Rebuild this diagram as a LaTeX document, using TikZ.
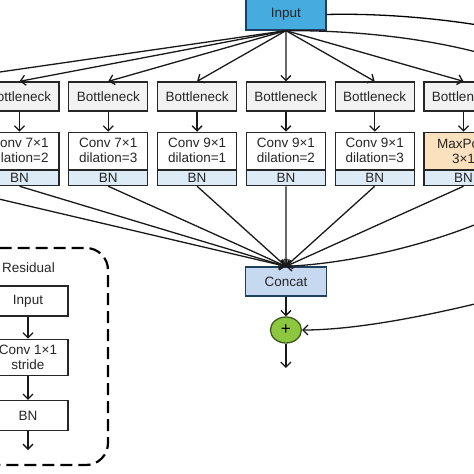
\documentclass[tikz,border=0pt]{standalone}
\usepackage{fontspec}
\setmainfont{Liberation Sans}
\usetikzlibrary{arrows.meta,positioning,shapes.geometric}
\definecolor{inblue}{HTML}{46ACDF}
\definecolor{inline}{HTML}{1F3F5F}
\definecolor{neckgray}{HTML}{F2F2F2}
\definecolor{bnblue}{HTML}{DDEBF7}
\definecolor{poolorange}{HTML}{FBE1BE}
\definecolor{catblue}{HTML}{C6D9F1}
\definecolor{plusgreen}{HTML}{8DC63F}
\definecolor{plusline}{HTML}{3C5A1E}
\definecolor{txt}{HTML}{262626}
\begin{document}
\begin{tikzpicture}[
    x=1pt, y=1pt,
    node distance=88.8pt,
    font=\fontsize{13.5}{15}\selectfont,
    box/.style={rectangle, draw=black!85, line width=1.3pt, minimum width=79pt, inner sep=0pt, align=center, text=txt},
    neck/.style={box, fill=neckgray, minimum height=29pt},
    conv/.style={box, fill=white, minimum height=37pt},
    pool/.style={box, fill=poolorange, minimum height=37pt},
    bn/.style={box, fill=bnblue, minimum height=15pt},
    plain/.style={box, fill=white, minimum width=80pt, minimum height=30pt},
    arrow/.style={-{Straight Barb[length=5pt,width=10pt]}, line width=1.3pt, black!90}
]
\useasboundingbox (0,0) rectangle (474,-474);
\clip (0,0) rectangle (474,-474);

% top input
\node[box, fill=inblue, draw=inline, minimum width=80pt, minimum height=31pt] (inp) at (285.9,-14.5) {Input};

% bottleneck row
\node[neck] (neck1) at (19.5,-96.5) {Bottleneck};
\node[neck, right of=neck1] (neck2) {Bottleneck};
\node[neck, right of=neck2] (neck3) {Bottleneck};
\node[neck, right of=neck3] (neck4) {Bottleneck};
\node[neck, right of=neck4] (neck5) {Bottleneck};
\node[neck, right of=neck5] (neck6) {Bottleneck};

% conv row
\node[conv, below=20pt of neck1] (conv1) {Conv 7×1\\dilation=2};
\node[conv, below=20pt of neck2] (conv2) {Conv 7×1\\dilation=3};
\node[conv, below=20pt of neck3] (conv3) {Conv 9×1\\dilation=1};
\node[conv, below=20pt of neck4] (conv4) {Conv 9×1\\dilation=2};
\node[conv, below=20pt of neck5] (conv5) {Conv 9×1\\dilation=3};
\node[pool, below=20pt of neck6] (conv6) {MaxPool\\3×1};

\node[bn, below=0pt of conv1] (bn1) {BN};
\node[bn, below=0pt of conv2] (bn2) {BN};
\node[bn, below=0pt of conv3] (bn3) {BN};
\node[bn, below=0pt of conv4] (bn4) {BN};
\node[bn, below=0pt of conv5] (bn5) {BN};
\node[bn, below=0pt of conv6] (bn6) {BN};

% branches outside the frame
\coordinate (neck0) at (-69.3,-82);
\coordinate (bn0) at (-69.3,-183);
\coordinate (neck7) at (552.3,-82);
\coordinate (bn7) at (552.3,-183);
\coordinate (res1) at (620,-70);
\coordinate (res2) at (600,-270);

% merge
\node[box, fill=catblue, draw=inline, minimum width=81pt, minimum height=29pt] (concat) at (285.9,-281.5) {Concat};
\node[ellipse, draw=plusline, fill=plusgreen, line width=1.3pt, minimum width=31pt, minimum height=26pt, inner sep=0pt, font=\fontsize{17}{17}\selectfont] (plus) at (285.9,-330) {+};
\coordinate (out) at (285.9,-368);

\draw[arrow] (inp.south) -- (neck0);
\draw[arrow] (inp.south) -- (neck1.north);
\draw[arrow] (inp.south) -- (neck2.north);
\draw[arrow] (inp.south) -- (neck3.north);
\draw[arrow] (inp.south) -- (neck4.north);
\draw[arrow] (inp.south) -- (neck5.north);
\draw[arrow] (inp.south) -- (neck6.north);
\draw[arrow] (inp.south) .. controls (400,-30) and (505,-52) .. (neck7);
\draw[line width=1.3pt] (inp.east) .. controls (420,-12) and (560,-30) .. (res1);

\draw[arrow] (neck1) -- (conv1);
\draw[arrow] (neck2) -- (conv2);
\draw[arrow] (neck3) -- (conv3);
\draw[arrow] (neck4) -- (conv4);
\draw[arrow] (neck5) -- (conv5);
\draw[arrow] (neck6) -- (conv6);

\draw[arrow] (bn0) -- (concat.north);
\draw[arrow] (bn1.south) -- (concat.north);
\draw[arrow] (bn2.south) -- (concat.north);
\draw[arrow] (bn3.south) -- (concat.north);
\draw[arrow] (bn4.south) -- (concat.north);
\draw[arrow] (bn5.south) -- (concat.north);
\draw[arrow] (bn6.south) -- (concat.north);
\draw[arrow] (bn7) .. controls (500,-225) and (380,-262) .. (concat.north);

\draw[arrow] (concat) -- (plus);
\draw[arrow] (plus) -- (out);
\draw[arrow] (res2) .. controls (500,-300) and (380,-330) .. (plus.east);

% residual legend
\draw[line width=2.2pt, dash pattern=on 12pt off 6pt, rounded corners=22pt] (-60,-248) rectangle (108,-465);
\node[text=txt] (restitle) at (28.5,-268) {Residual};
\node[plain] (resin) at (28,-301) {Input};
\node[plain, minimum height=36pt, below=22pt of resin] (resconv) {Conv 1×1\\stride};
\node[plain, below=24pt of resconv] (resbn) {BN};
\coordinate (resout) at (28,-450);

\draw[arrow] (resin) -- (resconv);
\draw[arrow] (resconv) -- (resbn);
\draw[arrow] (resbn) -- (resout);

\end{tikzpicture}
\end{document}
